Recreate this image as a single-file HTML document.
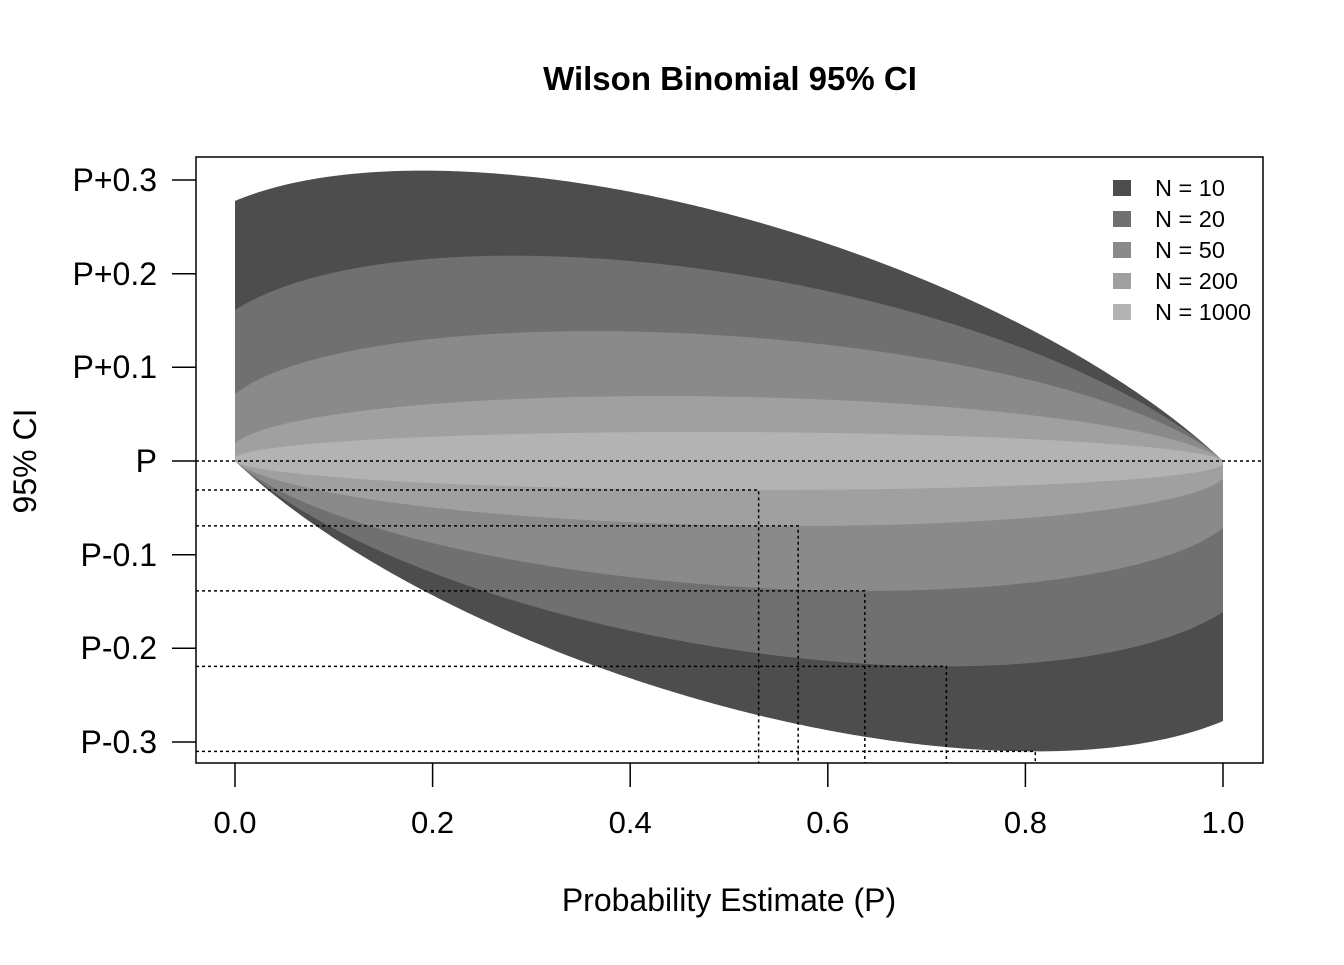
<!DOCTYPE html>
<html><head><meta charset="utf-8"><style>
body{margin:0;background:#fff;}
svg text{font-family:"Liberation Sans",sans-serif;}
</style></head><body>
<svg id="s" width="1344" height="960" xmlns="http://www.w3.org/2000/svg">
<g id="polys"></g>
<g id="lines" stroke="#000" stroke-width="1.5" stroke-dasharray="3,3" fill="none"></g>
<line x1="196" y1="461" x2="1263" y2="461" stroke="#000" stroke-width="1.5" stroke-dasharray="3,3"/>
<rect x="196" y="157" width="1067" height="606" fill="none" stroke="#000" stroke-width="1.5"/>
<g stroke="#000" stroke-width="1.5">
<line x1="172" y1="180" x2="196" y2="180"/><line x1="172" y1="273.7" x2="196" y2="273.7"/>
<line x1="172" y1="367.3" x2="196" y2="367.3"/><line x1="172" y1="461" x2="196" y2="461"/>
<line x1="172" y1="554.7" x2="196" y2="554.7"/><line x1="172" y1="648.3" x2="196" y2="648.3"/>
<line x1="172" y1="742" x2="196" y2="742"/>
<line x1="235" y1="763" x2="235" y2="787"/><line x1="432.6" y1="763" x2="432.6" y2="787"/>
<line x1="630.2" y1="763" x2="630.2" y2="787"/><line x1="827.8" y1="763" x2="827.8" y2="787"/>
<line x1="1025.4" y1="763" x2="1025.4" y2="787"/><line x1="1223" y1="763" x2="1223" y2="787"/>
</g>
<g font-size="32" text-anchor="end">
<text x="157" y="191">P+0.3</text><text x="157" y="285">P+0.2</text><text x="157" y="378">P+0.1</text>
<text x="157" y="472">P</text><text x="157" y="566">P-0.1</text><text x="157" y="659">P-0.2</text><text x="157" y="753">P-0.3</text>
</g>
<g font-size="31" text-anchor="middle">
<text x="235" y="833">0.0</text><text x="432.6" y="833">0.2</text><text x="630.2" y="833">0.4</text>
<text x="827.8" y="833">0.6</text><text x="1025.4" y="833">0.8</text><text x="1223" y="833">1.0</text>
<text x="729" y="911" font-size="32">Probability Estimate (P)</text>
<text x="730" y="90" font-weight="bold" font-size="33">Wilson Binomial 95% CI</text>
<text transform="translate(36,461) rotate(-90)" font-size="32">95% CI</text>
</g>
<g font-size="23.5">
<rect x="1113" y="180" width="18" height="16" fill="#4d4d4d"/><text x="1155" y="196">N = 10</text>
<rect x="1113" y="211" width="18" height="16" fill="#707070"/><text x="1155" y="227">N = 20</text>
<rect x="1113" y="242" width="18" height="16" fill="#8a8a8a"/><text x="1155" y="258">N = 50</text>
<rect x="1113" y="273" width="18" height="16" fill="#a0a0a0"/><text x="1155" y="289">N = 200</text>
<rect x="1113" y="304" width="18" height="16" fill="#b3b3b3"/><text x="1155" y="320">N = 1000</text>
</g>
</svg>
<script>
(function(){
var ns="http://www.w3.org/2000/svg";
var X=function(p){return 235+988*p;}, Y=function(d){return 461-937*d;};
var z=1.96,z2=z*z;
var Ns=[10,20,50,200,1000], C=["#4d4d4d","#707070","#8a8a8a","#a0a0a0","#b3b3b3"];
var pg=document.getElementById("polys"), lg=document.getElementById("lines");
for(var i=0;i<Ns.length;i++){
 var n=Ns[i], up=[], lo=[], minv=1, minp=0;
 for(var k=0;k<=400;k++){
  var p=k/400, c=(p+z2/(2*n))/(1+z2/n), h=z/(1+z2/n)*Math.sqrt(p*(1-p)/n+z2/(4*n*n));
  up.push(X(p).toFixed(2)+","+Y(c+h-p).toFixed(2));
  lo.push(X(p).toFixed(2)+","+Y(c-h-p).toFixed(2));
  if(c-h-p<minv){minv=c-h-p;minp=p;}
 }
 var poly=document.createElementNS(ns,"polygon");
 poly.setAttribute("points",up.concat(lo.reverse()).join(" "));
 poly.setAttribute("fill",C[i]);
 pg.appendChild(poly);
 var pl=document.createElementNS(ns,"polyline");
 pl.setAttribute("points","196,"+Y(minv)+" "+X(minp)+","+Y(minv)+" "+X(minp)+",763");
 lg.appendChild(pl);
}
})();
</script>
</body></html>
